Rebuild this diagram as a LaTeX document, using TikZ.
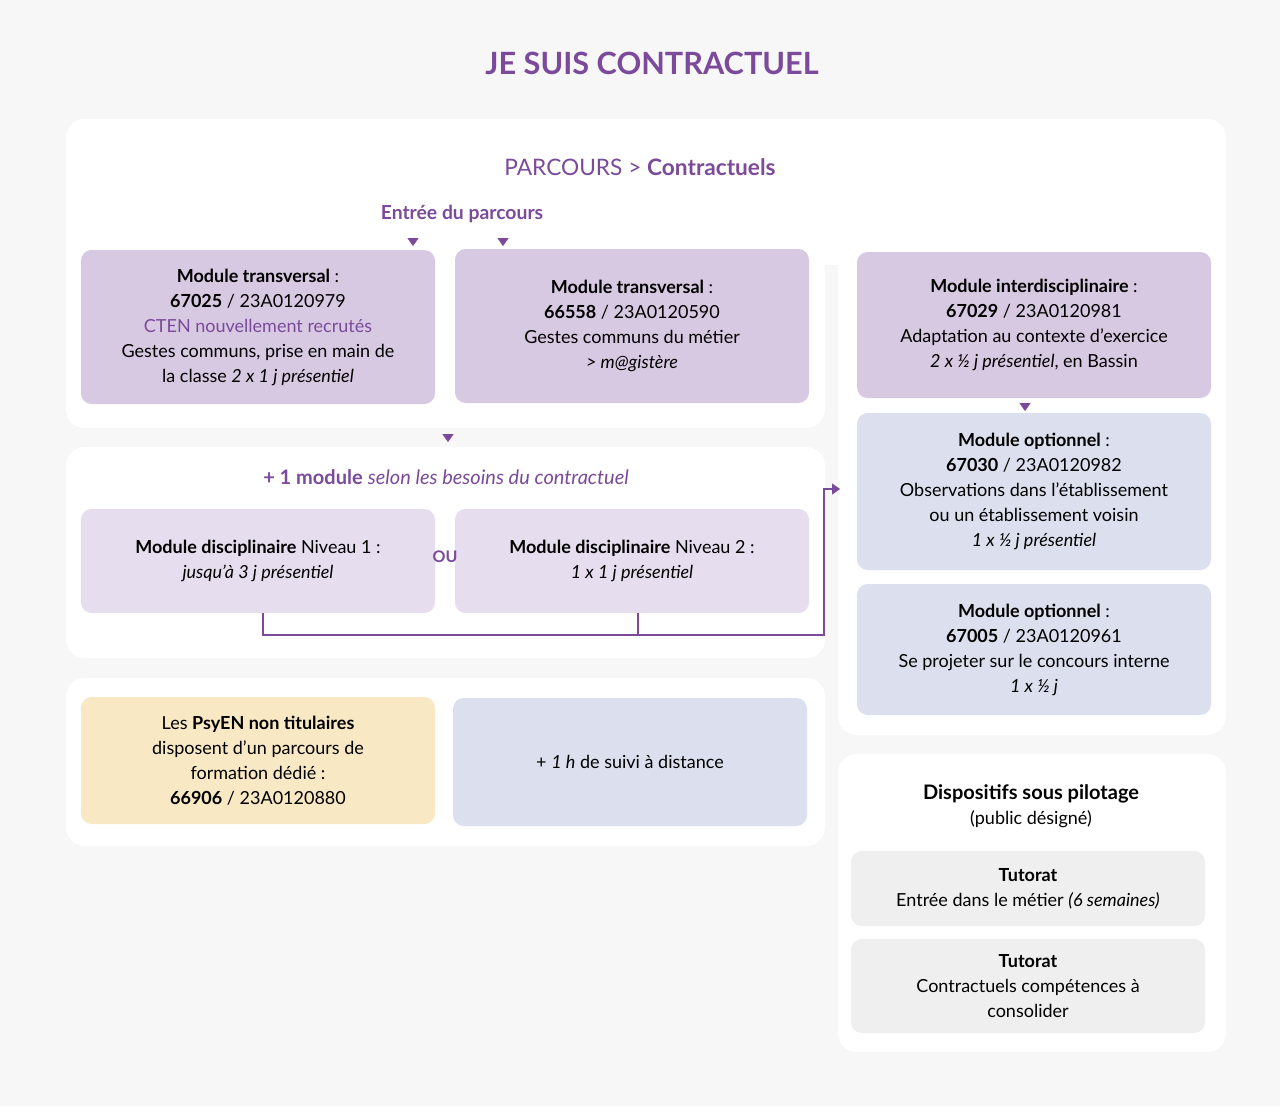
\documentclass[tikz,border=0pt]{standalone}
\usepackage{fontspec}
\setmainfont{Lato}
\usetikzlibrary{positioning,shapes.geometric}
\definecolor{violet}{HTML}{7B4A9A}
\definecolor{fond}{HTML}{F7F7F7}
\definecolor{lavande}{HTML}{D8C9E3}
\definecolor{lilas}{HTML}{E6DDEE}
\definecolor{bleu}{HTML}{DCE0EE}
\definecolor{jaune}{HTML}{F9E8C4}
\definecolor{gris}{HTML}{EFEFEF}
\tikzset{
  panneau/.style={fill=white,draw=none,rounded corners=14pt},
  boite/.style={draw=none,rounded corners=8pt,align=center,inner sep=0pt,
    font=\fontsize{13.5}{18.75}\selectfont},
  fleche/.style={isosceles triangle,fill=violet,draw=none,inner sep=0pt,
    minimum width=7pt,minimum height=6pt,isosceles triangle apex angle=70},
  lien/.style={draw=violet,line width=0.8pt},
}
\newcommand{\boite}[6]{% nom, x1, y1, x2, y2, couleur
  \path[boite,fill=#6] (#2,#3) rectangle (#4,#5);
  \coordinate (#1) at ({(#2+#4)/2},{(#3+#5)/2});}
\begin{document}
\begin{tikzpicture}[x=0.75pt,y=-0.75pt]
    \fill[fond](0,0)rectangle(1280,1106);
    \useasboundingbox(0,0)rectangle(1280,1106);
    \node[text=violet,font=\fontsize{23}{26}\selectfont\bfseries](titre)at(652,63){JE SUIS CONTRACTUEL};

    % panneaux blancs
    \fill[panneau](66,119)rectangle(1226,265);
    \fill[panneau](66,119)rectangle(825,428);
    \fill[panneau](838,200)rectangle(1226,735);
    \fill[fond](825,265)rectangle(838,440);
    \fill[panneau](66,447)rectangle(825,658);
    \fill[panneau](66,678)rectangle(825,846);
    \fill[panneau](838,754)rectangle(1226,1052);

    \node[text=violet,font=\fontsize{17}{20}\selectfont](parcours)at(640,167){PARCOURS > \textbf{Contractuels}};
    \node[text=violet,font=\fontsize{14.5}{18}\selectfont\bfseries](entree)at(462,214){Entrée du parcours};

    % modules
    \boite{mta}{81}{250}{435}{404}{lavande}
    \boite{mtb}{455}{249}{809}{403}{lavande}
    \boite{mid}{857}{252}{1211}{398}{lavande}
    \boite{moa}{857}{413}{1211}{570}{bleu}
    \boite{mob}{857}{584}{1211}{715}{bleu}
    \boite{mda}{81}{509}{435}{613}{lilas}
    \boite{mdb}{455}{509}{809}{613}{lilas}
    \boite{psy}{81}{697}{435}{824}{jaune}
    \boite{suivi}{453}{698}{807}{826}{bleu}
    \boite{tuta}{851}{851}{1205}{926}{gris}
    \boite{tutb}{851}{939}{1205}{1033}{gris}

    \node[boite]at(mta){\textbf{Module transversal} :\\\textbf{67025} / 23A0120979\\{\color{violet}CTEN nouvellement recrutés}\\Gestes communs, prise en main de\\la classe \textit{2 x 1 j présentiel}};
    \node[boite]at(mtb){\textbf{Module transversal} :\\\textbf{66558} / 23A0120590\\Gestes communs du métier\\\textit{> m@gistère}};
    \node[boite]at(mid){\textbf{Module interdisciplinaire} :\\\textbf{67029} / 23A0120981\\Adaptation au contexte d’exercice\\\textit{2 x ½ j présentiel}, en Bassin};
    \node[boite]at(moa){\textbf{Module optionnel} :\\\textbf{67030} / 23A0120982\\Observations dans l’établissement\\ou un établissement voisin\\\textit{1 x ½ j présentiel}};
    \node[boite]at(mob){\textbf{Module optionnel} :\\\textbf{67005} / 23A0120961\\Se projeter sur le concours interne\\\textit{1 x ½ j}};
    \node[boite]at(mda){\textbf{Module disciplinaire} Niveau 1 :\\\textit{jusqu’à 3 j présentiel}};
    \node[boite]at(mdb){\textbf{Module disciplinaire} Niveau 2 :\\\textit{1 x 1 j présentiel}};
    \node[boite]at(psy){Les \textbf{PsyEN non titulaires}\\disposent d’un parcours de\\formation dédié :\\\textbf{66906} / 23A0120880};
    \node[boite]at(suivi){+ \textit{1 h} de suivi à distance};
    \node[boite]at(tuta){\textbf{Tutorat}\\Entrée dans le métier \textit{(6 semaines)}};
    \node[boite]at(tutb){\textbf{Tutorat}\\Contractuels compétences à\\consolider};

    \node[boite,font=\fontsize{15}{19}\selectfont](besoin)at(446,477){\color{violet}\textbf{+ 1 module} \textit{selon les besoins du contractuel}};
    \node[text=violet,font=\fontsize{12}{14}\selectfont\bfseries](ou)at(445,557){OU};
    \node[boite,font=\fontsize{15}{19}\selectfont](dispo)at(1031,806){\textbf{Dispositifs sous pilotage}\\{\fontsize{13.5}{18}\selectfont(public désigné)}};

    % fleches
    \node[fleche,rotate=-90](f1)at(413,241){};
    \node[fleche,rotate=-90](f2)at(503,241){};
    \node[fleche,rotate=-90](f3)at(448,437){};
    \node[fleche,rotate=-90](f4)at(1025,406){};
    \node[fleche](f5)at(835,489){};

    \coordinate(ca)at(263,613);
    \coordinate(cb)at(638,613);
    \draw[lien](ca)|-(824,635)|-(f5.west);
    \draw[lien](cb)--(638,635);
\end{tikzpicture}
\end{document}
